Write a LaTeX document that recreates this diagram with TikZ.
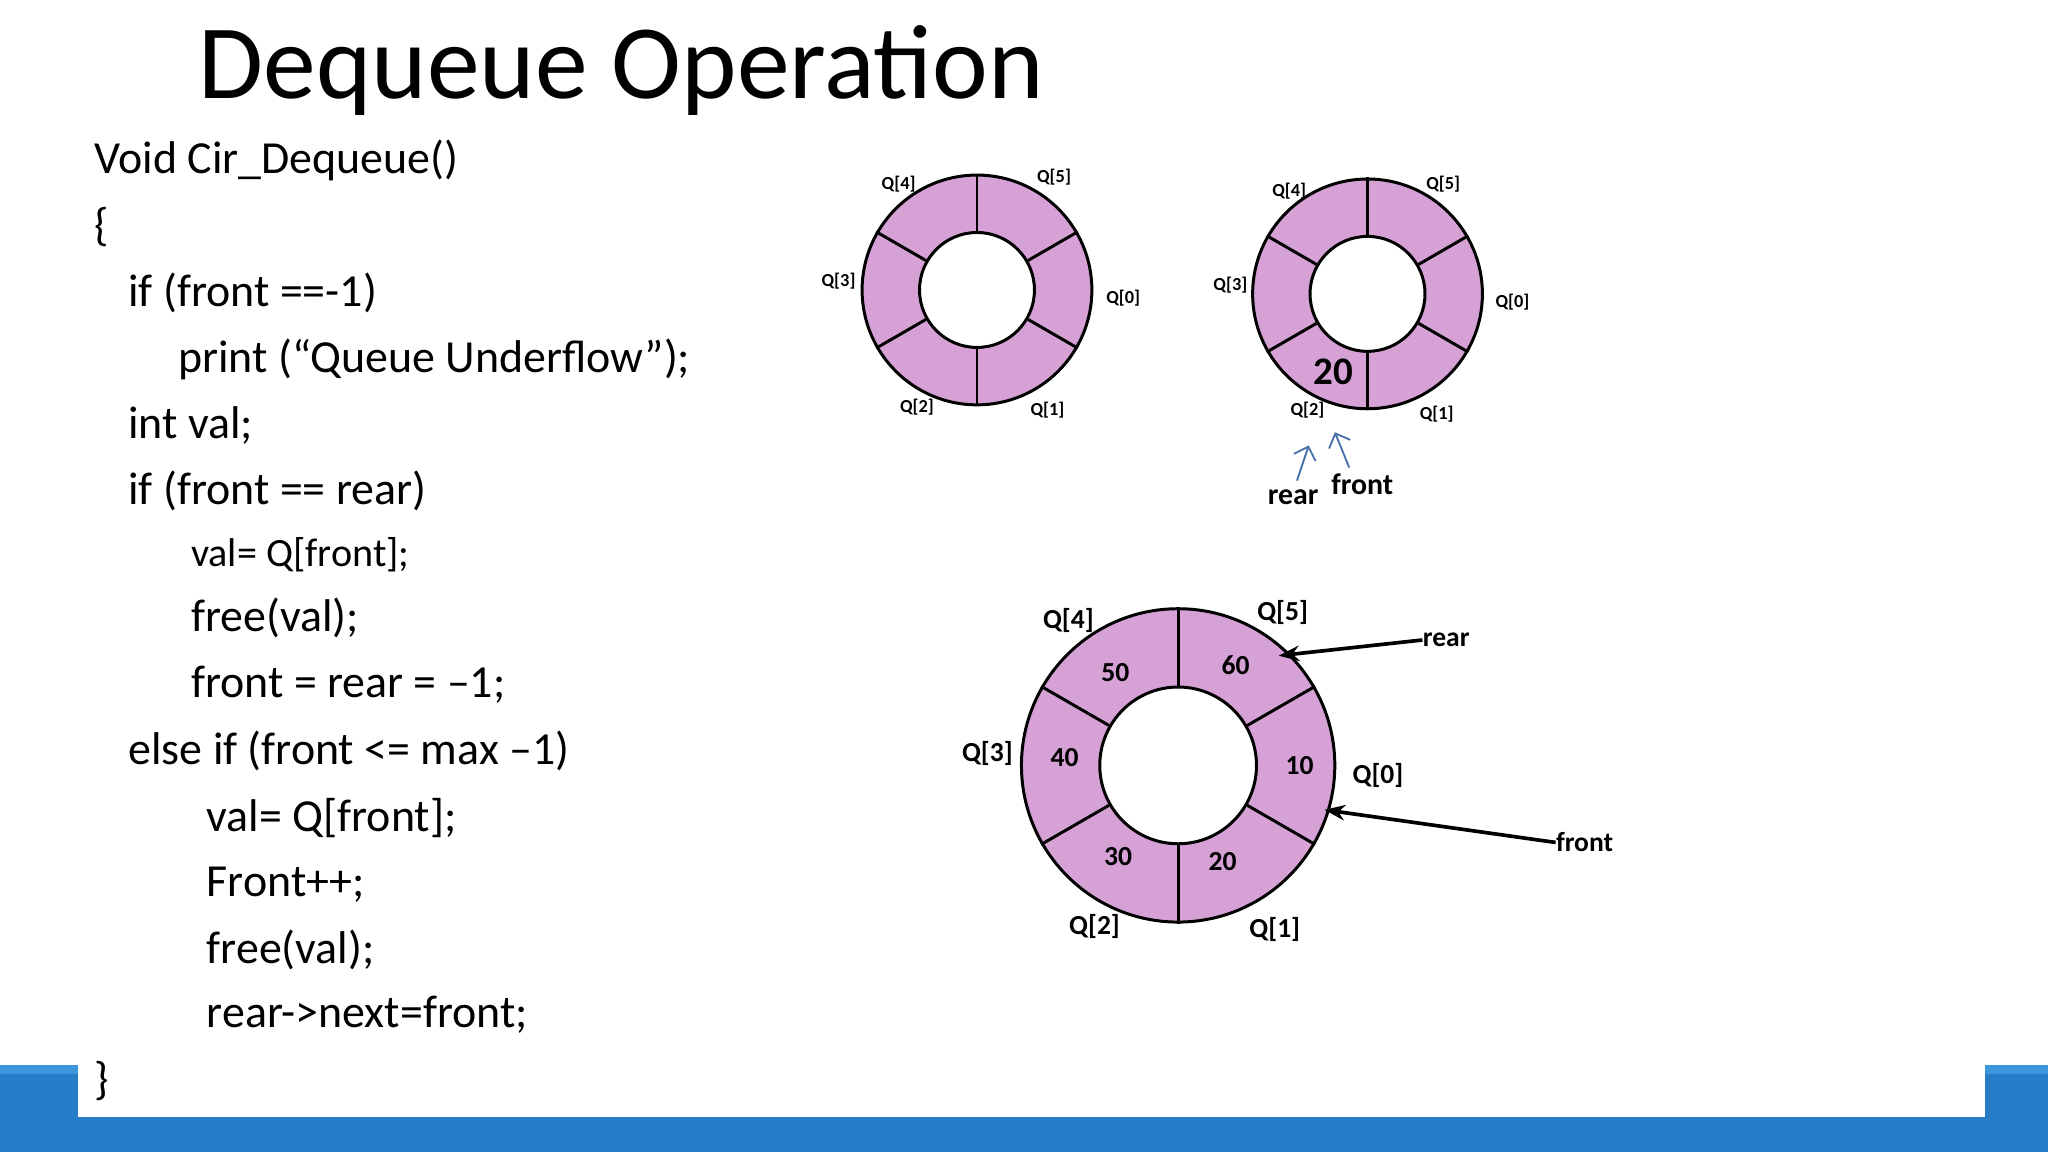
\documentclass[tikz,border=0pt]{standalone}
\usepackage{fontspec}
\setmainfont{Carlito}
\usetikzlibrary{arrows.meta}
\definecolor{ringfill}{RGB}{214,162,214}
\definecolor{barblue}{RGB}{38,124,198}
\definecolor{barlight}{RGB}{60,150,220}
\definecolor{arrblue}{RGB}{70,110,170}
\tikzset{
 code/.style={anchor=west,font=\fontsize{20}{22}\selectfont,inner sep=0pt},
 codes/.style={anchor=west,font=\fontsize{17.5}{20}\selectfont,inner sep=0pt},
 lab/.style={font=\bfseries\fontsize{8}{9}\selectfont,inner sep=0pt},
 labL/.style={font=\bfseries\fontsize{12}{13}\selectfont,inner sep=0pt},
 ring/.style={circle,draw=black,line width=1.3pt,inner sep=0pt},
}
\newcommand{\myring}[4]{% name, x,y, outer radius(px)
 \node[ring,fill=ringfill,minimum size=#4*0.04cm] (#1o) at (#2,#3) {};
 \node[ring,fill=white,minimum size=#4*0.02cm] (#1i) at (#2,#3) {};
 \foreach \a in {90,30,-30,-90,-150,150} \draw[line width=1.3pt] (#1i.\a) -- (#1o.\a);
}
\begin{document}
\begin{tikzpicture}[x=0.02cm,y=-0.02cm]
\useasboundingbox (0,0) rectangle (1568,882);
% bottom bar
\fill[barblue] (0,855) rectangle (1568,882);
\fill[barblue] (0,815) rectangle (60,855);
\fill[barblue] (1520,815) rectangle (1568,855);
\fill[barlight] (0,815) rectangle (60,822);
\fill[barlight] (1520,815) rectangle (1568,822);
% title
\node[anchor=west,inner sep=0pt,font=\fontsize{46}{50}\selectfont] (title) at (152,54) {Dequeue Operation};
% code
\node[code] (c1) at (72,123) {Void Cir\_Dequeue()};
\node[code] (c2) at (72,174) {\{};
\node[code] (c3) at (98,224) {if (front ==-1)};
\node[code] (c4) at (136,275) {print (“Queue Underflow”);};
\node[code] (c5) at (98,326) {int val;};
\node[code] (c6) at (98,376) {if (front == rear)};
\node[codes] (c7) at (146,425) {val= Q[front];};
\node[code] (c8) at (146,473) {free(val);};
\node[code] (c9) at (146,524) {front = rear = –1;};
\node[code] (c10) at (98,575) {else if (front <= max –1)};
\node[code] (c11) at (158,626) {val= Q[front];};
\node[code] (c12) at (158,677) {Front++;};
\node[code] (c13) at (158,727) {free(val);};
\node[code] (c14) at (158,777) {rear->next=front;};
\node[code] (c15) at (72,828) {\}};
% ring 1
\myring{a}{748}{222}{88}
\node[lab] (a4) at (688,141) {Q[4]};
\node[lab] (a5) at (807,136) {Q[5]};
\node[lab] (a3) at (642,215) {Q[3]};
\node[lab] (a0) at (860,228) {Q[0]};
\node[lab] (a2) at (702,312) {Q[2]};
\node[lab] (a1) at (802,314) {Q[1]};
% ring 2
\myring{b}{1047}{225}{88}
\node[lab] (b4) at (987,146) {Q[4]};
\node[lab] (b5) at (1105,141) {Q[5]};
\node[lab] (b3) at (942,218) {Q[3]};
\node[lab] (b0) at (1158,231) {Q[0]};
\node[lab] (b2) at (1001,314) {Q[2]};
\node[lab] (b1) at (1100,317) {Q[1]};
\node[font=\bfseries\fontsize{17}{18}\selectfont,inner sep=0pt] (b20) at (1021,285) {20};
\node[font=\bfseries\fontsize{13}{14}\selectfont,inner sep=0pt] (rear2) at (990,381) {rear};
\node[font=\bfseries\fontsize{13}{14}\selectfont,inner sep=0pt] (front2) at (1043,371) {front};
\coordinate (r2t) at (1002,341);
\coordinate (f2t) at (1022,331);
\draw[arrblue,thick,-{Straight Barb[length=5pt]}] (993,368) -- (r2t);
\draw[arrblue,thick,-{Straight Barb[length=5pt]}] (1033,358) -- (f2t);
% ring 3
\myring{c}{902}{586}{120}
\node[labL] (c4l) at (818,475) {Q[4]};
\node[labL] (c5l) at (982,469) {Q[5]};
\node[labL] (c3l) at (756,577) {Q[3]};
\node[labL] (c0l) at (1055,594) {Q[0]};
\node[labL] (c2l) at (838,709) {Q[2]};
\node[labL] (c1l) at (976,712) {Q[1]};
\node[labL] (v50) at (854,515) {50};
\node[labL] (v60) at (946,509) {60};
\node[labL] (v40) at (815,580) {40};
\node[labL] (v10) at (995,586) {10};
\node[labL] (v30) at (856,656) {30};
\node[labL] (v20) at (936,660) {20};
\node[labL,anchor=west] (rear3) at (1089,490) {rear};
\node[labL,anchor=west] (front3) at (1191,645) {front};
\coordinate (r3t) at (979,502);
\coordinate (f3t) at (1014,620);
\draw[line width=1.6pt,-{Stealth[length=9pt]}] (rear3.west) -- (r3t);
\draw[line width=1.6pt,-{Stealth[length=9pt]}] (front3.west) -- (f3t);
\end{tikzpicture}
\end{document}
